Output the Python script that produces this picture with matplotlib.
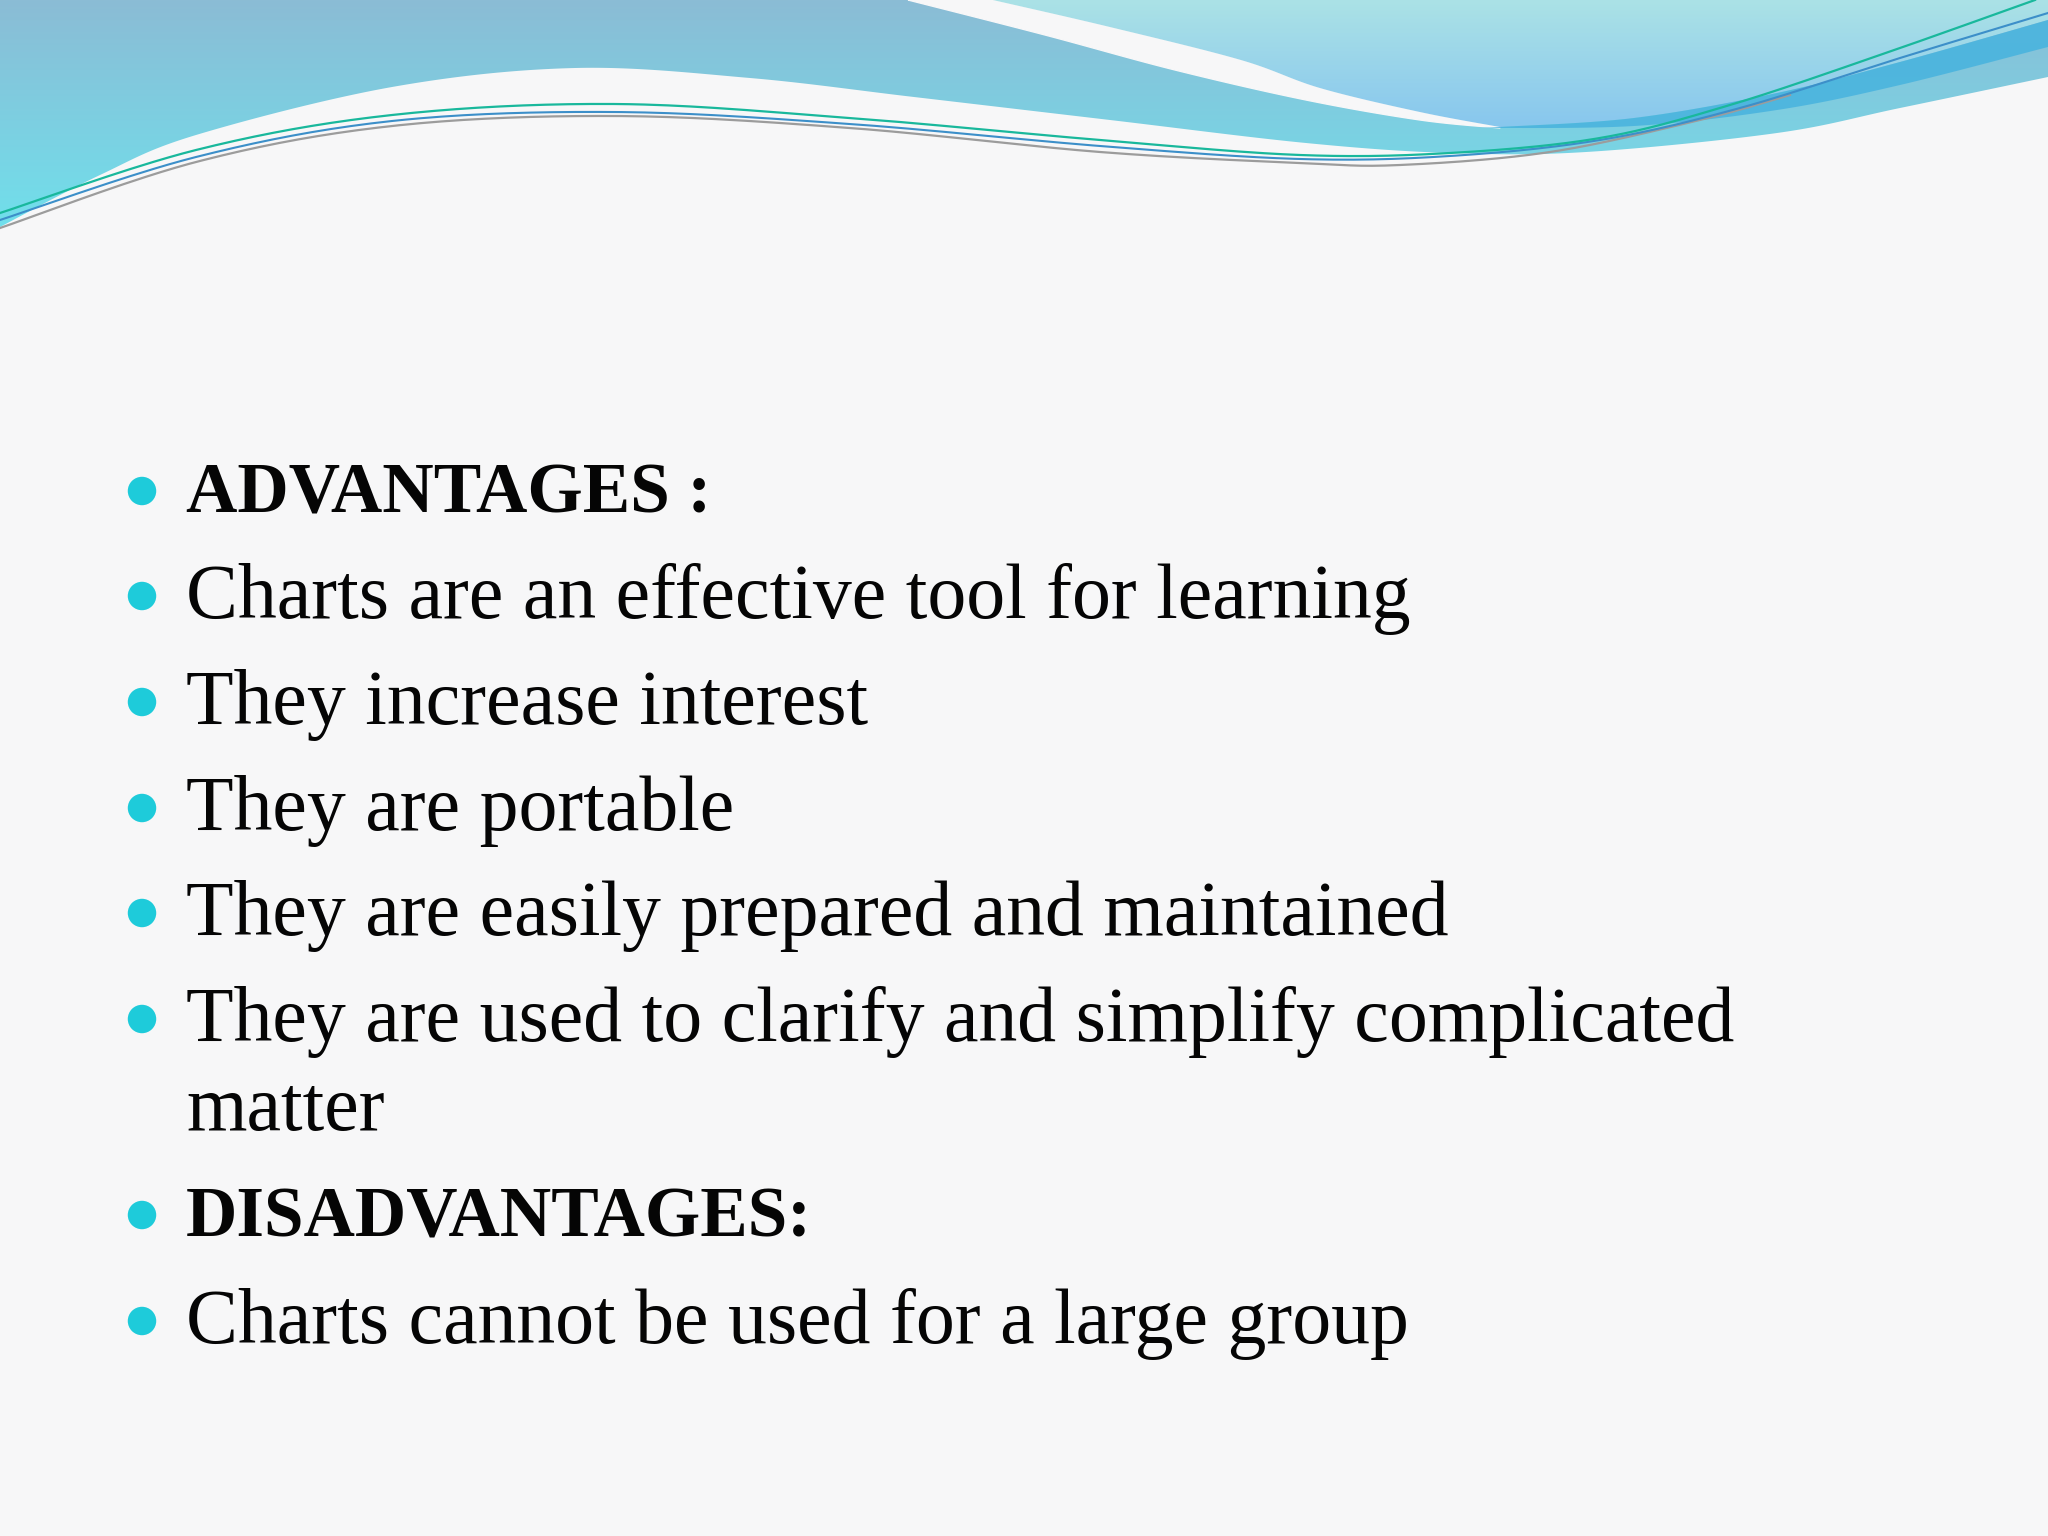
import numpy as np
import matplotlib
matplotlib.use("Agg")
from matplotlib import pyplot as plt
from matplotlib.patches import Polygon
from matplotlib.colors import to_rgb

# slide text
items = [
    "ADVANTAGES :",
    "Charts are an effective tool for learning",
    "They increase interest",
    "They are portable",
    "They are easily prepared and maintained",
    "They are used to clarify and simplify complicated",
    "matter",
    "DISADVANTAGES:",
    "Charts cannot be used for a large group",
]
bold = [True, False, False, False, False, False, False, True, False]
has_bullet = [True, True, True, True, True, True, False, True, True]

bg = "#f7f7f8"
bullet_col = "#1ecbda"


def smooth(pts, n=30):
    # catmull-rom through the points
    p = np.asarray(pts, float)
    p = np.vstack([p[0], p, p[-1]])
    out = []
    for i in range(1, len(p) - 2):
        p0, p1, p2, p3 = p[i - 1], p[i], p[i + 1], p[i + 2]
        t = np.linspace(0, 1, n, endpoint=False)[:, None]
        out.append(0.5 * ((2 * p1) + (-p0 + p2) * t +
                          (2 * p0 - 5 * p1 + 4 * p2 - p3) * t ** 2 +
                          (-p0 + 3 * p1 - 3 * p2 + p3) * t ** 3))
    out.append(p[-2][None, :])
    return np.vstack(out)


def grad_fill(ax, poly, top, bottom, y0, y1):
    patch = Polygon(poly, closed=True, facecolor="none", edgecolor="none")
    ax.add_patch(patch)
    c0, c1 = np.array(to_rgb(top)), np.array(to_rgb(bottom))
    t = np.linspace(0, 1, 200)[:, None]
    img = (c0 + (c1 - c0) * t)[:, None, :].repeat(2, axis=1)
    im = ax.imshow(img, extent=(0, 2048, y1, y0), aspect="auto", zorder=patch.get_zorder())
    im.set_clip_path(patch)


fig = plt.figure(figsize=(20.48, 15.36), dpi=100)
fig.patch.set_facecolor(bg)
ax = fig.add_axes([0, 0, 1, 1])
ax.set_facecolor(bg)
ax.set_xlim(0, 2048)
ax.set_ylim(1536, 0)
ax.axis("off")

# header waves
band_edge = smooth([(0, 227), (100, 175), (196, 135), (392, 87), (575, 68), (750, 78),
                    (914, 97), (1110, 120), (1306, 143), (1450, 153), (1586, 152),
                    (1777, 133), (1900, 108), (2048, 77)])
main = np.vstack([[(0, 0), (2048, 0)], band_edge[::-1]])
grad_fill(ax, main, "#8bbcd5", "#70e0ec", 0, 230)

left_edge = smooth([(908, 0), (1045, 35), (1175, 70), (1306, 100), (1420, 120), (1500, 128)])
right_edge = smooth([(993, 0), (1110, 27), (1241, 60), (1320, 88), (1420, 112), (1500, 127)])
ax.add_patch(Polygon(np.vstack([left_edge, right_edge[::-1]]), closed=True,
                     facecolor=bg, edgecolor=bg, lw=1))

pale_bottom = smooth([(1500, 127), (1634, 118), (1777, 93), (1900, 62), (2048, 20)])
pale = np.vstack([right_edge, pale_bottom[1:], [(2048, 0)]])
grad_fill(ax, pale, "#abe2e6", "#87c6ee", 0, 130)

dark_low = smooth([(2048, 47), (1900, 85), (1777, 110), (1634, 126), (1480, 128)])
ax.add_patch(Polygon(np.vstack([pale_bottom, dark_low]), closed=True,
                     facecolor="#4ab4de", edgecolor="none", alpha=0.9))

teal = smooth([(0, 213), (196, 150), (392, 115), (614, 104), (850, 118), (1100, 140),
               (1300, 155), (1450, 153), (1600, 138), (1730, 105), (1880, 55), (2035, 0)])
blue = smooth([(0, 220), (196, 157), (392, 121), (614, 112), (850, 124), (1100, 146),
               (1300, 159), (1450, 156), (1600, 140), (1740, 108), (1900, 58), (2048, 13)])
gray = smooth([(0, 228), (196, 162), (392, 126), (614, 116), (850, 128), (1100, 152),
               (1300, 163), (1400, 165), (1550, 152), (1700, 120), (1790, 95)])
ax.plot(gray[:, 0], gray[:, 1], color="#9c9c9c", lw=1.6)
ax.plot(blue[:, 0], blue[:, 1], color="#3c8fc9", lw=1.5)
ax.plot(teal[:, 0], teal[:, 1], color="#19b89c", lw=1.6)

# bullet text
baselines = [513, 618, 724, 830, 935, 1041, 1130, 1237, 1343]
text_x = 186
fam = ["Liberation Serif", "DejaVu Serif"]

# size regular text to the longest line, bold text to the DISADVANTAGES line
probe = ax.text(0, 0, items[5], fontsize=40, family=fam)
probe_b = ax.text(0, 0, items[7], fontsize=40, family=fam, fontweight="bold")
fig.canvas.draw()
fs = 40 * 1547 / probe.get_window_extent().width
fs_b = 40 * 625 / probe_b.get_window_extent().width
probe.remove()
probe_b.remove()

for s, b, bul, y in zip(items, bold, has_bullet, baselines):
    ax.text(text_x, y, s, fontsize=fs_b if b else fs, family=fam, va="baseline", ha="left",
            fontweight="bold" if b else "normal", color="#050505")
    if bul:
        ax.scatter([142], [y - 22], s=420, color=bullet_col, edgecolors="none", zorder=3)

fig.savefig("out.png", dpi=100, facecolor=bg)
